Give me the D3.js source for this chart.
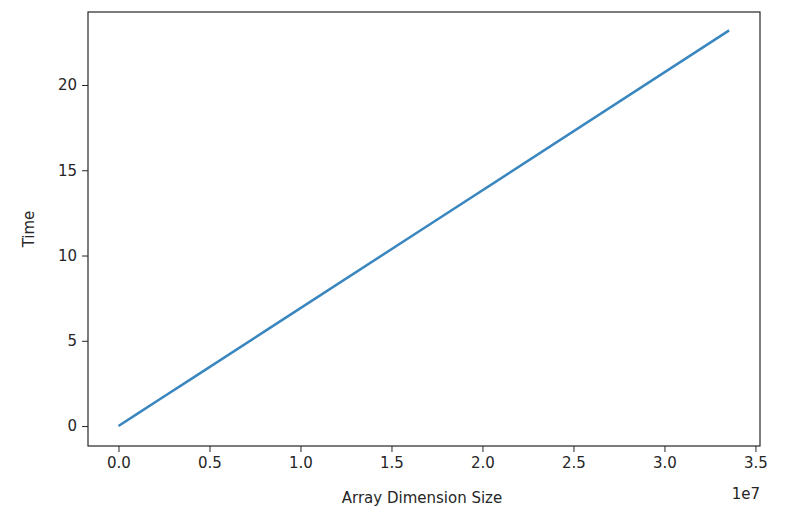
<!DOCTYPE html>
<html><head><meta charset="utf-8">
<script src="https://cdn.jsdelivr.net/npm/d3@7"></script>
<style>body{margin:0;background:#fff}text{font-family:"DejaVu Sans",sans-serif;}</style>
</head><body><svg id="c" width="788" height="522"></svg>
<script>
// array sizes and measured times
var sizes = [1, 1048576, 2097152, 4194304, 8388608, 16777216, 33554432];
var times = [0.0, 0.73, 1.45, 2.9, 5.8, 11.6, 23.2];
var xTicks = [0, 0.5e7, 1e7, 1.5e7, 2e7, 2.5e7, 3e7, 3.5e7];
var yTicks = [0, 5, 10, 15, 20];

var svg = d3.select('#c');
var m = {l: 88, r: 28, t: 12, b: 76};
var w = 788 - m.l - m.r, h = 522 - m.t - m.b;
var g = svg.append('g').attr('transform', 'translate(' + m.l + ',' + m.t + ')');

var x = d3.scaleLinear().domain([-0.1675e7, 3.525e7]).range([0, w]);
var y = d3.scaleLinear().domain([-1.17, 24.28]).range([h, 0]);

var xa = g.append('g').attr('transform', 'translate(0,' + h + ')')
	.call(d3.axisBottom(x).tickValues(xTicks).tickSize(6).tickPadding(5)
		.tickFormat(function(d) { return (d / 1e7).toFixed(1); }));
var ya = g.append('g')
	.call(d3.axisLeft(y).tickValues(yTicks).tickSize(6).tickPadding(5));
[xa, ya].forEach(function(a) {
	a.select('.domain').remove();
	a.selectAll('text').attr('font-size', 15).attr('fill', '#262626');
	a.selectAll('line').attr('stroke', '#262626');
});

g.append('rect').attr('width', w).attr('height', h)
	.attr('fill', 'none').attr('stroke', '#262626').attr('stroke-width', 1.2);

var line = d3.line().x(function(d, i) { return x(sizes[i]); }).y(function(d) { return y(d); });
g.append('path').datum(times).attr('d', line)
	.attr('fill', 'none').attr('stroke', '#3a87c0').attr('stroke-width', 2.5);

svg.append('text').attr('x', m.l + w / 2 - 2).attr('y', 503).attr('text-anchor', 'middle')
	.attr('font-size', 15).attr('fill', '#262626').text('Array Dimension Size');
svg.append('text').attr('x', m.l + w).attr('y', 499).attr('text-anchor', 'end')
	.attr('font-size', 15).attr('fill', '#262626').text('1e7');
svg.append('text').attr('transform', 'translate(34,' + (m.t + h / 2) + ') rotate(-90)')
	.attr('text-anchor', 'middle').attr('font-size', 15).attr('fill', '#262626').text('Time');
</script></body></html>
